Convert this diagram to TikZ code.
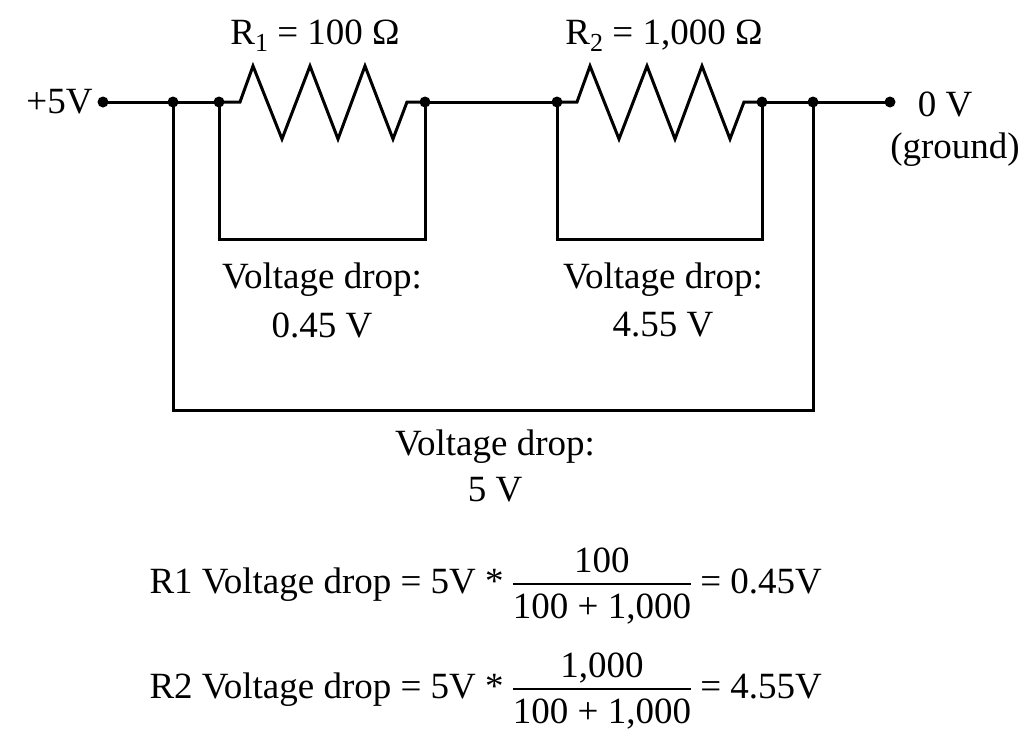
\documentclass[tikz,border=0pt]{standalone}
\usepackage{fontspec}
\setmainfont{Liberation Serif}
\newcommand{\myfrac}[2]{\setlength{\arrayrulewidth}{2pt}\renewcommand{\arraystretch}{0.95}$\vcenter{\hbox{\begin{tabular}{@{}c@{}}#1\\[-2pt]\hline\rule{0pt}{33pt}#2\end{tabular}}}$}
\begin{document}
\begin{tikzpicture}[x=1pt,y=-1pt,line width=3pt,
  wire/.style={line join=miter},
  dotn/.style={circle,fill=black,inner sep=0pt,minimum size=11pt},
  lbl/.style={font=\fontsize{37}{44}\selectfont,inner sep=0pt,align=center}]
\useasboundingbox (0,0) rectangle (1034,734);
\foreach \n/\x in {p/103,a/173,b/219,c/425,d/557,e/762,f/813,g/890}
  \node[dotn] (\n) at (\x,102) {};
% resistors
\draw[wire] (b.center) -- (240,102) -- (253,66) -- (282,139) -- (310,66) -- (338,139) -- (365,66) -- (393,139) -- (407,102) -- (c.center);
\draw[wire] (d.center) -- (577,102) -- (590,66) -- (619,139) -- (647,66) -- (675,139) -- (702,66) -- (730,139) -- (744,102) -- (e.center);
\draw (p.center) -- (b.center);
\draw (c.center) -- (d.center);
\draw (e.center) -- (g.center);
\draw[wire] (b.center) -- (219,239) -- (425,239) -- (c.center);
\draw[wire] (d.center) -- (557,239) -- (762,239) -- (e.center);
\draw[wire] (a.center) -- (173,410) -- (813,410) -- (f.center);
% labels
\node[lbl] (r1) at (315,36) {R{\fontsize{26}{28}\selectfont\raisebox{-7pt}{1}} = 100 Ω};
\node[lbl] (r2) at (664,36) {R{\fontsize{26}{28}\selectfont\raisebox{-7pt}{2}} = 1,000 Ω};
\node[lbl,anchor=east] (vp) at (94,102) {+5V};
\node[lbl] (v0) at (945,104) {0 V};
\node[lbl] (gr) at (955,150) {(ground)};
\node[lbl] (d1) at (322,280) {Voltage drop:};
\node[lbl] (d1v) at (322,325) {0.45 V};
\node[lbl] (d2) at (663,280) {Voltage drop:};
\node[lbl] (d2v) at (663,325) {4.55 V};
\node[lbl] (d3) at (495,447) {Voltage drop:};
\node[lbl] (d3v) at (495,490) {5 V};
\node[lbl,anchor=west] (e1) at (148,587) {R1 Voltage drop = 5V * \myfrac{100}{100 + 1,000} = 0.45V};
\node[lbl,anchor=west] (e2) at (148,692) {R2 Voltage drop = 5V * \myfrac{1,000}{100 + 1,000} = 4.55V};
\end{tikzpicture}
\end{document}
